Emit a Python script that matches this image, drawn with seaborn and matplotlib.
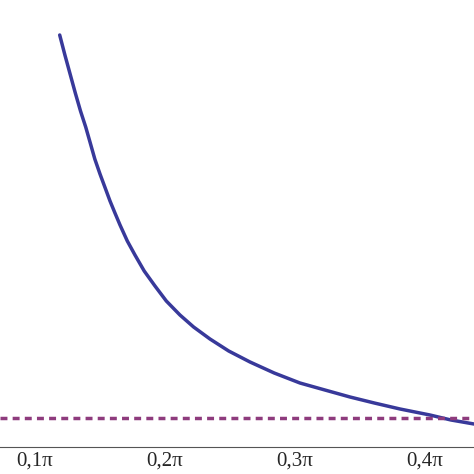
import matplotlib
matplotlib.use("Agg")
import matplotlib.pyplot as plt
import seaborn as sns

sns.set_style("white")
plt.rcParams['font.family'] = ['Liberation Serif', 'DejaVu Serif']

# x in units of pi, y in arbitrary units
x_vals = [0.119, 0.123, 0.127, 0.131, 0.135, 0.139, 0.1423, 0.146, 0.150, 0.154, 0.1577, 0.1615, 0.1654, 0.171, 0.1769,
          0.184, 0.1923, 0.201, 0.2115, 0.222, 0.2346, 0.249, 0.2654, 0.284, 0.3038, 0.323, 0.3423, 0.361, 0.3808, 0.4038, 0.42, 0.4377]
y_vals = [412, 392, 373, 354, 336, 320, 305, 288, 273, 259, 246, 234, 222, 206, 192,
          176, 161, 146, 132, 120, 108, 96, 85, 74, 64, 57, 50, 44, 38, 32, 27, 23]
dash_y = 29
tick_vals = [0.1, 0.2, 0.3, 0.4]
tick_labels = ["0,1π", "0,2π", "0,3π", "0,4π"]

fig = plt.figure(figsize=(4.74, 4.74), dpi=100)
ax = fig.add_axes([0, 27/474, 1, 447/474])
sns.lineplot(x=x_vals, y=y_vals, ax=ax, color="#38399a", linewidth=2.5)
ax.axhline(dash_y, color="#8e3b7d", linestyle=(0, (2, 1.5)), linewidth=2.5)
ax.set_xlim(0.1 - 35/1300, 0.1 + 439/1300)
ax.set_ylim(0, 447)
ax.set_xticks(tick_vals)
ax.set_xticklabels(tick_labels, fontsize=15)
ax.set_yticks([])
for s in ["top", "right", "left"]:
    ax.spines[s].set_visible(False)
ax.spines["bottom"].set_color("#555555")
ax.tick_params(axis="x", direction="in", length=5, pad=3, color="#555555")
fig.savefig("out.png", dpi=100)
